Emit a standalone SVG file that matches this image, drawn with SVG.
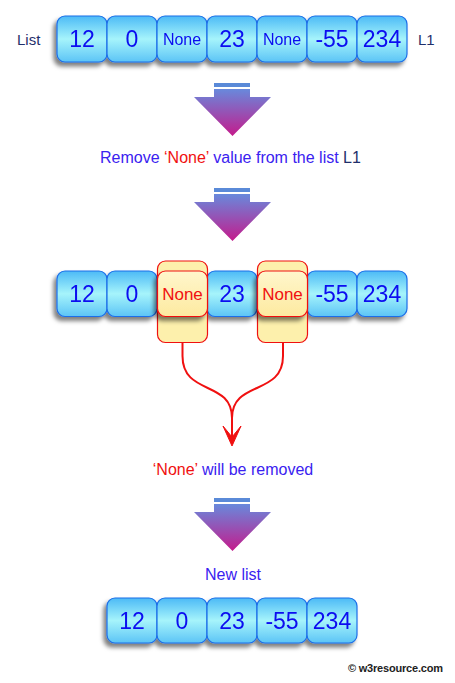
<svg xmlns="http://www.w3.org/2000/svg" xmlns:xlink="http://www.w3.org/1999/xlink" width="455" height="683" viewBox="0 0 455 683">
<defs>
<linearGradient id="gBlue" x1="0" y1="0" x2="0" y2="1">
<stop offset="0" stop-color="#4cbaf6"/>
<stop offset="0.5" stop-color="#a6f4fb"/>
<stop offset="1" stop-color="#5cc4f6"/>
</linearGradient>
<linearGradient id="gYellow" x1="0" y1="0" x2="0" y2="1">
<stop offset="0" stop-color="#fff6cc"/>
<stop offset="1" stop-color="#fdeaa0"/>
</linearGradient>
<linearGradient id="gArrow" x1="0" y1="0" x2="0" y2="1">
<stop offset="0" stop-color="#6889dc"/>
<stop offset="1" stop-color="#c41b8c"/>
</linearGradient>
<filter id="shadow" x="-30%" y="-30%" width="160%" height="170%">
<feDropShadow dx="-3" dy="4" stdDeviation="2" flood-color="#000" flood-opacity="0.5"/>
</filter>
<g id="downArrow">
<rect x="214" y="0" width="36" height="4" fill="#5a8ad8"/>
<path d="M214,6 H250 V14 H271 L232.5,53 L194,14 H214 Z" fill="url(#gArrow)"/>
</g>
</defs>
<style>
.box{fill:url(#gBlue);stroke:#1c6ee8;stroke-width:1.2}
.ybox{fill:url(#gYellow);stroke:#f01010;stroke-width:1.2}
.ytall{fill:#fdf0ac;stroke:#f01010;stroke-width:1.2}
.num{font-family:"Liberation Sans",Arial,sans-serif;font-size:23px;fill:#0a0af0;text-anchor:middle}
.none{font-family:"Liberation Sans",Arial,sans-serif;font-size:16px;fill:#0a0af0;text-anchor:middle}
.rnone{font-family:"Liberation Sans",Arial,sans-serif;font-size:17px;fill:#f01010;text-anchor:middle}
.lbl{font-family:"Liberation Sans",Arial,sans-serif;font-size:15px;fill:#1f2f6b}
.msg{font-family:"Liberation Sans",Arial,sans-serif;font-size:16px;fill:#3a22f0}
.red{fill:#f01010}
.navy{fill:#1f2f6b}
.conn{fill:none;stroke:#f01010;stroke-width:2}
</style>
<rect width="455" height="683" fill="#fff"/>

<!-- Top list -->
<text class="lbl" x="17" y="45">List</text>
<g id="top-list" filter="url(#shadow)">
<g id="t0"><rect class="box" x="57" y="16" width="50" height="46" rx="8"/><text class="num" x="82" y="46.5">12</text></g>
<g id="t1"><rect class="box" x="107" y="16" width="50" height="46" rx="8"/><text class="num" x="132" y="46.5">0</text></g>
<g id="t2"><rect class="box" x="157" y="16" width="50" height="46" rx="8"/><text class="none" x="182" y="45">None</text></g>
<g id="t3"><rect class="box" x="207" y="16" width="50" height="46" rx="8"/><text class="num" x="232" y="46.5">23</text></g>
<g id="t4"><rect class="box" x="257" y="16" width="50" height="46" rx="8"/><text class="none" x="282" y="45">None</text></g>
<g id="t5"><rect class="box" x="307" y="16" width="50" height="46" rx="8"/><text class="num" x="332" y="46.5">-55</text></g>
<g id="t6"><rect class="box" x="357" y="16" width="50" height="46" rx="8"/><text class="num" x="382" y="46.5">234</text></g>
</g>
<text class="lbl" x="418" y="45">L1</text>

<g id="arrow1"><use xlink:href="#downArrow" href="#downArrow" transform="translate(0,83)"/></g>

<text class="msg" x="100" y="162.5">Remove <tspan class="red">&#8216;None&#8217;</tspan> value from the list <tspan class="navy">L1</tspan></text>

<g id="arrow2"><use xlink:href="#downArrow" href="#downArrow" transform="translate(0,188)"/></g>

<!-- Middle list -->
<g id="mid-list" filter="url(#shadow)">
<g id="m0"><rect class="box" x="57" y="271" width="50" height="45.5" rx="8"/><text class="num" x="82" y="301.5">12</text></g>
<g id="m1"><rect class="box" x="107" y="271" width="50" height="45.5" rx="8"/><text class="num" x="132" y="301.5">0</text></g>
<g id="m3"><rect class="box" x="207" y="271" width="50" height="45.5" rx="8"/><text class="num" x="232" y="301.5">23</text></g>
<g id="m5"><rect class="box" x="307" y="271" width="50" height="45.5" rx="8"/><text class="num" x="332" y="301.5">-55</text></g>
<g id="m6"><rect class="box" x="357" y="271" width="50" height="45.5" rx="8"/><text class="num" x="382" y="301.5">234</text></g>
</g>
<g id="m2">
<rect class="ytall" x="157.5" y="261" width="50" height="81.5" rx="8"/>
<rect class="ybox" x="157.5" y="271" width="50" height="45.5" rx="8" filter="url(#shadow)"/>
<text class="rnone" x="182.5" y="300">None</text>
</g>
<g id="m4">
<rect class="ytall" x="257.5" y="261" width="50" height="81.5" rx="8"/>
<rect class="ybox" x="257.5" y="271" width="50" height="45.5" rx="8" filter="url(#shadow)"/>
<text class="rnone" x="282.5" y="300">None</text>
</g>

<g id="connectors">
<path class="conn" d="M182.5,342.5 V356 C182.5,396 232,380 232,418 V438"/>
<path class="conn" d="M283,342.5 V356 C283,396 232,380 232,418 V438"/>
<path d="M223,426 L232,446 L241,426 L232,437 Z" fill="#f01010" stroke="#f01010" stroke-width="1" stroke-linejoin="round"/>
</g>

<text class="msg" x="233" y="475" text-anchor="middle"><tspan class="red">&#8216;None&#8217;</tspan> will be removed</text>

<g id="arrow3"><use xlink:href="#downArrow" href="#downArrow" transform="translate(0,498)"/></g>

<text class="msg" x="233" y="580" text-anchor="middle">New list</text>

<!-- Bottom list -->
<g id="new-list" filter="url(#shadow)">
<g id="b0"><rect class="box" x="107" y="598" width="50" height="45" rx="8"/><text class="num" x="132" y="628.5">12</text></g>
<g id="b1"><rect class="box" x="157" y="598" width="50" height="45" rx="8"/><text class="num" x="182" y="628.5">0</text></g>
<g id="b2"><rect class="box" x="207" y="598" width="50" height="45" rx="8"/><text class="num" x="232" y="628.5">23</text></g>
<g id="b3"><rect class="box" x="257" y="598" width="50" height="45" rx="8"/><text class="num" x="282" y="628.5">-55</text></g>
<g id="b4"><rect class="box" x="307" y="598" width="50" height="45" rx="8"/><text class="num" x="332" y="628.5">234</text></g>
</g>

<text x="348" y="671.5" font-family="'Liberation Sans',Arial,sans-serif" font-size="11" font-weight="bold" fill="#222" textLength="95">© w3resource.com</text>
</svg>
